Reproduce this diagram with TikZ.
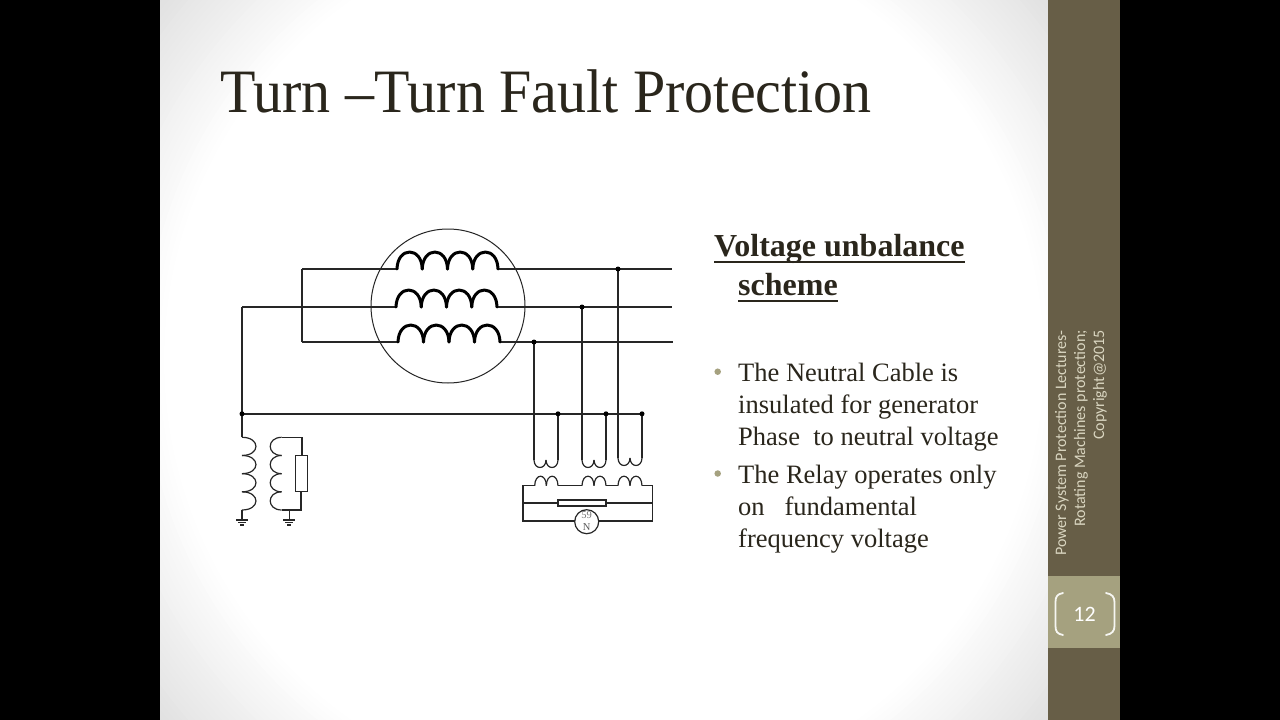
\documentclass[tikz,border=0pt]{standalone}
\usepackage{fontspec}
\setmainfont{Liberation Serif}
\newfontfamily\sidefont{Carlito}
\newfontfamily\titlefont[FakeStretch=0.94]{Liberation Serif}
\definecolor{sidebar}{HTML}{675E47}
\definecolor{numbox}{HTML}{A5A17F}
\definecolor{inkdark}{HTML}{2A261C}
\definecolor{sidetext}{HTML}{D9D5C0}
\newcommand{\hcoil}[5]{% x1 x2 y height n
  \foreach \i in {1,...,#5}{
    \pgfmathsetmacro{\xa}{#1+(\i-1)*(#2-#1)/#5}
    \pgfmathsetmacro{\xb}{#1+\i*(#2-#1)/#5}
    \pgfmathsetmacro{\xc}{\xa+0.02*(#2-#1)/#5}
    \pgfmathsetmacro{\xd}{\xb-0.02*(#2-#1)/#5}
    \pgfmathsetmacro{\yc}{#3+1.33*(#4)}
    \draw (\xa,#3) .. controls (\xc,\yc) and (\xd,\yc) .. (\xb,#3);
  }}
\newcommand{\vcoil}[5]{% x y1 y2 bulge n
  \foreach \i in {1,...,#5}{
    \pgfmathsetmacro{\ya}{#2+(\i-1)*(#3-#2)/#5}
    \pgfmathsetmacro{\yb}{#2+\i*(#3-#2)/#5}
    \pgfmathsetmacro{\xc}{#1+1.33*(#4)}
    \draw (#1,\ya) .. controls (\xc,\ya) and (\xc,\yb) .. (#1,\yb);
  }}
\tikzset{
  wire/.style={draw=black!85,line width=1.5pt},
  thinwire/.style={draw=black!85,line width=1.2pt},
  coilline/.style={draw=black,line width=3pt,line cap=round},
  smallcoil/.style={draw=black!85,line width=1.2pt},
  junction/.style={circle,fill=black,inner sep=0pt,minimum size=5pt},
  relaybox/.style={draw=black!85,line width=1.2pt,fill=white},
  bodytext/.style={anchor=base west,inner sep=0pt,font=\fontsize{26.5}{30}\selectfont,text=inkdark},
  headtext/.style={anchor=base west,inner sep=0pt,font=\bfseries\fontsize{32}{36}\selectfont,text=inkdark},
  headrule/.style={draw=inkdark,line width=2.6pt},
  bullet/.style={circle,fill=numbox,inner sep=0pt,minimum size=6.5pt},
  sidelabel/.style={anchor=base east,inner sep=0pt,rotate=90,font=\sidefont\fontsize{16}{18}\selectfont,text=sidetext},
  bracketline/.style={draw=white!90!numbox,line width=1.8pt,line cap=round}
}
\begin{document}
\begin{tikzpicture}[x=1pt,y=-1pt]
\useasboundingbox (0,0) rectangle (1280,720);
\fill[black] (0,0) rectangle (1280,720);
\begin{scope}
  \clip (160,0) rectangle (1048,720);
  \fill[black!14] (160,0) rectangle (1048,720);
  \foreach \i in {0,...,32}{
    \pgfmathsetmacro{\rr}{600-\i*5}
    \pgfmathsetmacro{\gg}{14*(32-\i)/32}
    \fill[black!\gg] (604,360) circle (\rr);
  }
\end{scope}
\fill[sidebar] (1048,0) rectangle (1120,720);
\fill[numbox] (1048,576) rectangle (1120,648);

% title
\node[anchor=base west,inner sep=0pt,font=\titlefont\fontsize{61.7}{64}\selectfont,text=inkdark] (title) at (220,112.5) {Turn –Turn Fault Protection};

% heading
\node[headtext] (head1) at (714,256.5) {Voltage unbalance};
\node[headtext] (head2) at (738,295.5) {scheme};
\draw[headrule] ([yshift=-5.3pt]head1.base west) -- ([yshift=-5.3pt]head1.base east);
\draw[headrule] ([yshift=-5.3pt]head2.base west) -- ([yshift=-5.3pt]head2.base east);

% bullets
\node[bullet] (b1) at (717.7,371.7) {};
\node[bodytext] (t1) at (738,381) {The Neutral Cable is};
\node[bodytext] (t2) at (738,413) {insulated for generator};
\node[bodytext] (t3) at (738,445.5) {Phase\ \ to neutral voltage};
\node[bullet] (b2) at (717.7,473.5) {};
\node[bodytext] (t4) at (738,483) {The Relay operates only};
\node[bodytext] (t5) at (738,515.5) {on\ \ \ fundamental};
\node[bodytext] (t6) at (738,547.5) {frequency voltage};

% side text
\node[sidelabel] (s1) at (1066,330) {Power System Protection Lectures-};
\node[sidelabel] (s2) at (1085,330) {Rotating Machines protection;};
\node[sidelabel] (s3) at (1104,330) {Copyright@2015};

% page number
\node[inner sep=0pt,font=\sidefont\fontsize{22}{24}\selectfont,text=white] (num) at (1084.5,614) {12};
\draw[bracketline] (1063,593) .. controls (1057,594) and (1055.5,597) .. (1055.5,602) -- (1055.5,626) .. controls (1055.5,631) and (1057,634) .. (1063,635);
\draw[bracketline] (1106,593) .. controls (1112,594) and (1114.5,597) .. (1114.5,602) -- (1114.5,626) .. controls (1114.5,631) and (1112,634) .. (1106,635);

% generator
\draw[draw=black!85,line width=1pt] (448,306) circle (77);
\draw[wire] (302,269) -- (397,269) (498,269) -- (672,269);
\draw[wire] (242,307) -- (396,307) (497,307) -- (672,307);
\draw[wire] (302,342) -- (398,342) (500,342) -- (673,342);
\draw[wire] (302,269) -- (302,342);
\begin{scope}[coilline]
  \hcoil{397}{498}{269}{-17}{4}
  \hcoil{396}{497}{307}{-17}{4}
  \hcoil{398}{500}{342}{-17}{4}
\end{scope}

% neutral and bus
\draw[wire] (242,307) -- (242,437);
\draw[wire] (242,413.8) -- (642,413.8);
\node[junction] (jn) at (242,413.8) {};

% tapped lines to CTs
\draw[wire] (534,342) -- (534,460);
\draw[wire] (582,307) -- (582,460);
\draw[wire] (618,269) -- (618,458);
\draw[wire] (558,413.8) -- (558,460);
\draw[wire] (606,413.8) -- (606,460);
\draw[wire] (642,413.8) -- (642,458);
\node[junction] (ja) at (534,342) {};
\node[junction] (jb) at (582,307) {};
\node[junction] (jc) at (618,269) {};
\node[junction] (jd) at (558,413.8) {};
\node[junction] (je) at (606,413.8) {};
\node[junction] (jf) at (642,413.8) {};

% CT primaries
\begin{scope}[smallcoil]
  \hcoil{534}{558}{460}{7.5}{2}
  \hcoil{582}{606}{460}{7.5}{2}
  \hcoil{618}{642}{458}{7.5}{2}
  \hcoil{534.7}{558}{485.7}{-9.5}{2}
  \hcoil{582}{606}{485.7}{-9.5}{2}
  \hcoil{618}{642}{485.7}{-9.5}{2}
\end{scope}

% open delta with relay
\draw[thinwire] (534.7,485.7) -- (523,485.7) -- (523,521) -- (652.7,521) -- (652.7,485.7) -- (642,485.7);
\draw[thinwire] (558,485.7) -- (582,485.7) (606,485.7) -- (618,485.7);
\draw[thinwire] (523,503) -- (652.7,503);
\node[relaybox,minimum width=48pt,minimum height=6pt,inner sep=0pt] (res2) at (582,503) {};
\node[relaybox,circle,minimum size=24pt,inner sep=0pt] (relay) at (586.7,521.7) {};
\node[inner sep=0pt,font=\fontsize{10.5}{11}\selectfont,text=black!55] (r59) at (586.7,515.5) {59};
\node[inner sep=0pt,font=\fontsize{10.5}{11}\selectfont,text=black!65] (rN) at (586.7,527) {N};

% neutral transformer
\begin{scope}[smallcoil]
  \vcoil{242}{437.3}{510}{14}{4}
  \vcoil{281.7}{437.3}{510}{-11.5}{4}
\end{scope}
\draw[thinwire] (281.7,437.3) -- (302,437.3) -- (302,455.3);
\draw[thinwire] (281.7,510) -- (301,510) -- (301,491.3);
\node[relaybox,minimum width=12.4pt,minimum height=36pt,inner sep=0pt] (res1) at (301.5,473.3) {};
\draw[thinwire] (242,510) -- (242,520);
\draw[thinwire] (289.3,510) -- (289.3,520);
\draw[thinwire] (236,520) -- (248,520) (238,522.5) -- (246,522.5) (240,525) -- (244,525);
\draw[thinwire] (283.3,520) -- (295.3,520) (285.3,522.5) -- (293.3,522.5) (287.3,525) -- (291.3,525);
\end{tikzpicture}
\end{document}
